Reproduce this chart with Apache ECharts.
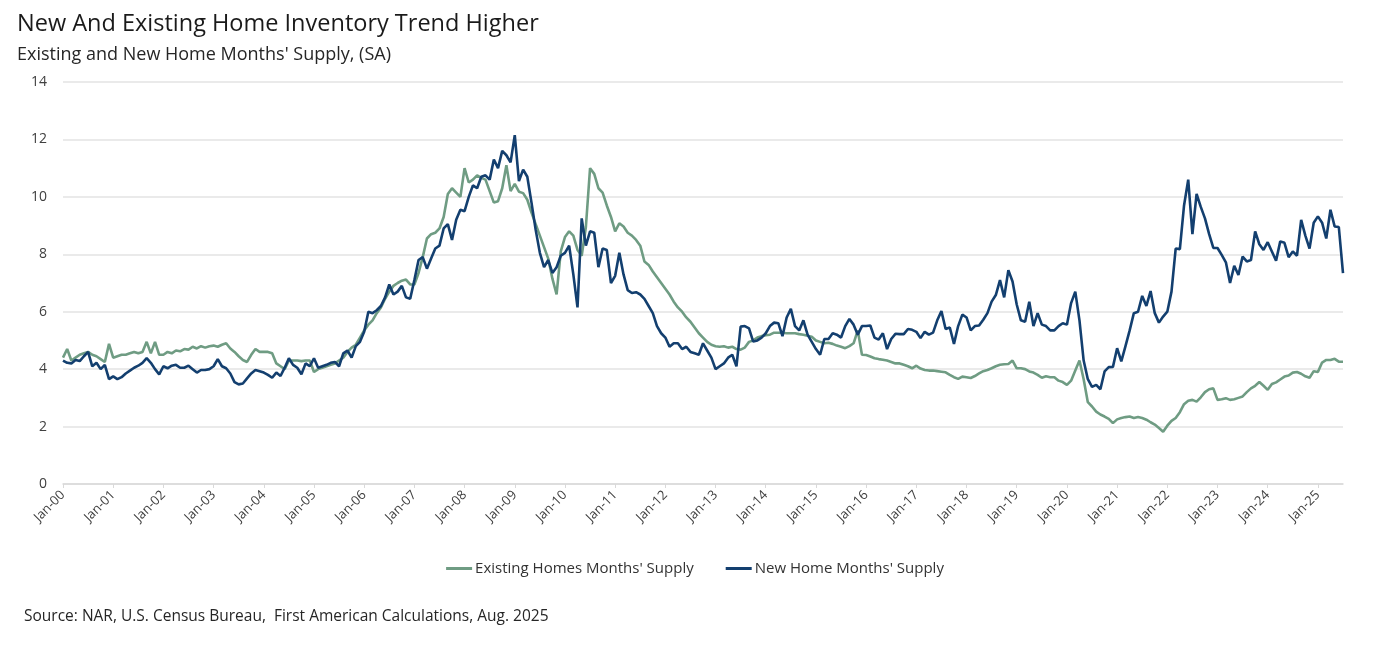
<!DOCTYPE html>
<html>
<head>
<meta charset="utf-8">
<title>New And Existing Home Inventory Trend Higher</title>
<script src="https://cdn.jsdelivr.net/npm/echarts@6/dist/echarts.min.js"></script>
<style>
	html, body { margin: 0; padding: 0; background: #fff; }
	#chart { width: 1390px; height: 646px; }
</style>
</head>
<body>
<div id="chart"></div>
<script>
	// monthly, Jan-2000 .. Jul-2025
	var monthNames = ['Jan', 'Feb', 'Mar', 'Apr', 'May', 'Jun', 'Jul', 'Aug', 'Sep', 'Oct', 'Nov', 'Dec'];
	var firstYear = 2000;

	var existingSupply = [
		4.4, 4.7, 4.3, 4.4, 4.5, 4.55, 4.6, 4.5, 4.45, 4.35, 4.25, 4.88,      // 2000
		4.4, 4.45, 4.5, 4.5, 4.55, 4.6, 4.55, 4.6, 4.95, 4.55, 4.95, 4.5,     // 2001
		4.5, 4.6, 4.55, 4.65, 4.62, 4.7, 4.68, 4.78, 4.72, 4.8, 4.75, 4.8,    // 2002
		4.82, 4.78, 4.85, 4.9, 4.72, 4.6, 4.45, 4.32, 4.25, 4.5, 4.7, 4.6,    // 2003
		4.6, 4.6, 4.55, 4.2, 4.1, 4.0, 4.3, 4.3, 4.3, 4.28, 4.3, 4.3,         // 2004
		3.9, 4.0, 4.05, 4.1, 4.15, 4.2, 4.3, 4.4, 4.6, 4.75, 4.85, 5.1,       // 2005
		5.35, 5.55, 5.7, 5.95, 6.15, 6.45, 6.7, 6.9, 7.0, 7.08, 7.12, 6.95,   // 2006
		6.95, 7.35, 7.9, 8.55, 8.7, 8.75, 8.9, 9.3, 10.1, 10.3, 10.15, 10.0,  // 2007
		11.0, 10.5, 10.6, 10.75, 10.66, 10.6, 10.2, 9.8, 9.85, 10.3, 11.1, 10.2, // 2008
		10.45, 10.18, 10.13, 9.9, 9.45, 9.05, 8.65, 8.25, 7.85, 7.15, 6.6, 8.1,  // 2009
		8.6, 8.8, 8.65, 8.15, 7.95, 8.95, 11.0, 10.8, 10.3, 10.15, 9.7, 9.3,  // 2010
		8.8, 9.08, 8.97, 8.75, 8.65, 8.5, 8.3, 7.75, 7.63, 7.4, 7.2, 7.0,     // 2011
		6.8, 6.6, 6.35, 6.15, 6.0, 5.8, 5.65, 5.45, 5.25, 5.1, 4.95, 4.85,    // 2012
		4.8, 4.78, 4.8, 4.75, 4.78, 4.7, 4.68, 4.75, 4.95, 5.0, 5.1, 5.15,    // 2013
		5.18, 5.2, 5.27, 5.27, 5.27, 5.25, 5.25, 5.25, 5.22, 5.2, 5.16, 5.13, // 2014
		5.0, 4.95, 4.9, 4.92, 4.88, 4.82, 4.78, 4.73, 4.8, 4.9, 5.35, 4.5,    // 2015
		4.49, 4.44, 4.38, 4.35, 4.33, 4.3, 4.25, 4.2, 4.2, 4.15, 4.1, 4.03,   // 2016
		4.12, 4.02, 3.97, 3.95, 3.95, 3.93, 3.91, 3.89, 3.8, 3.72, 3.66, 3.74, // 2017
		3.72, 3.69, 3.76, 3.85, 3.93, 3.97, 4.03, 4.1, 4.15, 4.17, 4.18, 4.3, // 2018
		4.03, 4.03, 4.0, 3.92, 3.88, 3.8, 3.7, 3.75, 3.72, 3.72, 3.6, 3.55,   // 2019
		3.45, 3.6, 3.95, 4.3, 3.65, 2.85, 2.7, 2.52, 2.42, 2.35, 2.27, 2.12,  // 2020
		2.25, 2.3, 2.33, 2.35, 2.3, 2.33, 2.3, 2.24, 2.15, 2.07, 1.95, 1.82,  // 2021
		2.03, 2.2, 2.3, 2.5, 2.78, 2.9, 2.93, 2.87, 3.02, 3.2, 3.3, 3.33,     // 2022
		2.93, 2.95, 2.99, 2.93, 2.95, 3.0, 3.05, 3.2, 3.33, 3.42, 3.55, 3.42, // 2023
		3.28, 3.48, 3.54, 3.64, 3.74, 3.78, 3.88, 3.9, 3.84, 3.75, 3.7, 3.93, // 2024
		3.9, 4.23, 4.32, 4.32, 4.36, 4.26, 4.26                               // 2025
	];

	var newSupply = [
		4.3, 4.22, 4.2, 4.32, 4.28, 4.45, 4.6, 4.1, 4.22, 4.0, 4.15, 3.65,    // 2000
		3.75, 3.65, 3.72, 3.85, 3.95, 4.05, 4.12, 4.22, 4.38, 4.22, 4.0, 3.82, // 2001
		4.1, 4.03, 4.12, 4.15, 4.05, 4.05, 4.12, 4.0, 3.88, 3.97, 3.97, 4.0,  // 2002
		4.1, 4.35, 4.1, 4.03, 3.85, 3.55, 3.47, 3.5, 3.68, 3.85, 3.97, 3.93,  // 2003
		3.88, 3.8, 3.7, 3.88, 3.76, 4.05, 4.38, 4.15, 4.05, 3.82, 4.2, 4.1,   // 2004
		4.38, 4.05, 4.1, 4.15, 4.22, 4.25, 4.1, 4.55, 4.65, 4.4, 4.8, 4.95,   // 2005
		5.3, 6.0, 5.95, 6.05, 6.2, 6.5, 6.95, 6.6, 6.7, 6.9, 6.5, 6.45,       // 2006
		7.1, 7.8, 7.9, 7.5, 7.85, 8.2, 8.3, 8.9, 9.05, 8.5, 9.2, 9.55,        // 2007
		9.5, 10.0, 10.4, 10.3, 10.7, 10.75, 10.6, 11.3, 11.0, 11.6, 11.45, 11.2, // 2008
		12.15, 10.55, 10.95, 10.7, 9.8, 8.85, 8.05, 7.55, 7.8, 7.35, 7.55, 7.95, // 2009
		8.05, 8.3, 7.3, 6.15, 9.25, 8.3, 8.8, 8.75, 7.55, 8.2, 8.15, 7.0,     // 2010
		7.25, 8.05, 7.3, 6.75, 6.65, 6.68, 6.6, 6.45, 6.2, 5.95, 5.5, 5.25,   // 2011
		5.1, 4.78, 4.9, 4.9, 4.7, 4.78, 4.6, 4.55, 4.5, 4.9, 4.65, 4.4,       // 2012
		4.0, 4.1, 4.2, 4.4, 4.5, 4.1, 5.48, 5.5, 5.42, 4.96, 5.0, 5.1,        // 2013
		5.25, 5.5, 5.62, 5.6, 5.15, 5.8, 6.1, 5.5, 5.35, 5.7, 5.2, 4.95,      // 2014
		4.7, 4.5, 5.05, 5.05, 5.25, 5.2, 5.1, 5.5, 5.75, 5.55, 5.2, 5.5,      // 2015
		5.5, 5.52, 5.1, 5.03, 5.25, 4.7, 5.05, 5.23, 5.22, 5.22, 5.4, 5.37,   // 2016
		5.3, 5.08, 5.3, 5.2, 5.27, 5.7, 6.02, 5.4, 5.45, 4.88, 5.5, 5.9,      // 2017
		5.8, 5.35, 5.5, 5.52, 5.72, 5.95, 6.35, 6.58, 7.1, 6.5, 7.45, 7.05,   // 2018
		6.25, 5.7, 5.65, 6.35, 5.5, 5.95, 5.55, 5.5, 5.35, 5.35, 5.5, 5.6,    // 2019
		5.55, 6.3, 6.7, 5.7, 4.3, 3.65, 3.38, 3.45, 3.3, 3.92, 4.07, 4.08,    // 2020
		4.73, 4.27, 4.8, 5.35, 5.95, 6.0, 6.55, 6.2, 6.72, 5.95, 5.62, 5.83,  // 2021
		6.0, 6.7, 8.2, 8.18, 9.7, 10.6, 8.7, 10.1, 9.65, 9.25, 8.7, 8.22,     // 2022
		8.22, 7.98, 7.72, 7.0, 7.6, 7.28, 7.92, 7.75, 7.8, 8.8, 8.35, 8.15,   // 2023
		8.42, 8.1, 7.78, 8.45, 8.4, 7.9, 8.1, 7.95, 9.2, 8.65, 8.2, 9.1,      // 2024
		9.32, 9.1, 8.55, 9.55, 8.97, 8.95, 7.34                               // 2025
	];

	var yTicks = [0, 2, 4, 6, 8, 10, 12, 14];

	var categories = [];
	for (var i = 0; i < newSupply.length; i++) {
		var yy = (firstYear + Math.floor(i / 12)) % 100;
		categories.push(monthNames[i % 12] + '-' + (yy < 10 ? '0' : '') + yy);
	}

	var isJan = function (idx) { return idx % 12 === 0; };
	var fontFamily = '"Open Sans", Lato, sans-serif';

	var chart = echarts.init(document.getElementById('chart'));
	var option = {
		backgroundColor: '#fff',
		textStyle: { fontFamily: fontFamily },
		title: [{
			text: 'New And Existing Home Inventory Trend Higher',
			subtext: "Existing and New Home Months' Supply, (SA)",
			left: 12,
			top: 7,
			itemGap: 10,
			textStyle: { fontSize: 23.5, fontWeight: 'normal', color: '#1a1a1a', fontFamily: fontFamily },
			subtextStyle: { fontSize: 18, color: '#262626', fontFamily: fontFamily }
		}, {
			text: 'Source: NAR, U.S. Census Bureau,  First American Calculations, Aug. 2025',
			left: 19,
			top: 604,
			textStyle: { fontSize: 15.5, fontWeight: 'normal', color: '#262626', fontFamily: fontFamily }
		}],
		legend: {
			top: 556,
			left: 'center',
			icon: 'rect',
			itemWidth: 26,
			itemHeight: 3,
			itemGap: 32,
			textStyle: { fontSize: 15, color: '#333', padding: [0, 0, 0, -2] },
			data: ["Existing Homes Months' Supply", "New Home Months' Supply"]
		},
		grid: {
			left: 63,
			right: 47,
			top: 82,
			bottom: 162,
			containLabel: false
		},
		xAxis: {
			type: 'category',
			data: categories,
			boundaryGap: false,
			axisLine: { lineStyle: { color: '#d9d9d9', width: 1.5 } },
			axisTick: { show: true, interval: function (idx) { return isJan(idx); }, length: 4, lineStyle: { color: '#d9d9d9' } },
			axisLabel: {
				interval: function (idx) { return isJan(idx); },
				rotate: 45,
				margin: 9,
				fontSize: 13,
				color: '#404040'
			},
			splitLine: { show: false }
		},
		yAxis: {
			type: 'value',
			min: yTicks[0],
			max: yTicks[yTicks.length - 1],
			interval: 2,
			axisLine: { show: false },
			axisTick: { show: false },
			axisLabel: { fontSize: 14, color: '#404040', margin: 16 },
			splitLine: { lineStyle: { color: '#e3e3e3', width: 1.5 } }
		},
		series: [{
			name: "Existing Homes Months' Supply",
			type: 'line',
			data: existingSupply,
			symbol: 'none',
			color: '#6f9c83',
			lineStyle: { width: 2.6, color: '#6f9c83' }
		}, {
			name: "New Home Months' Supply",
			type: 'line',
			data: newSupply,
			symbol: 'none',
			color: '#133f6f',
			lineStyle: { width: 2.6, color: '#133f6f' }
		}]
	};
	chart.setOption(option);
</script>
</body>
</html>
